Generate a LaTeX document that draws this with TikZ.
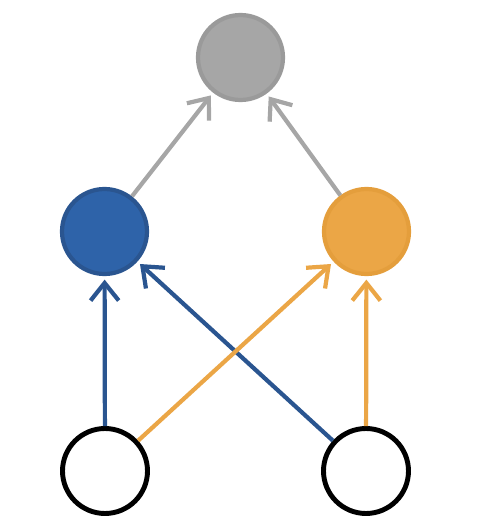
\documentclass[tikz,border=0pt]{standalone}
\usepackage{tikz}
\usetikzlibrary{arrows.meta}
\definecolor{gry}{HTML}{A6A6A6}
\definecolor{gryline}{HTML}{9A9A9A}
\definecolor{blu}{HTML}{2E63A9}
\definecolor{bluline}{HTML}{2A5590}
\definecolor{org}{HTML}{EBA646}
\definecolor{orgline}{HTML}{E49E3C}
\tikzset{every picture/.style={line width=2.4pt}}
\tikzset{every node/.style={draw, circle, minimum size=1.7cm, inner sep=0pt}}
\tikzset{edge/.style={-{Straight Barb[length=10pt,width=16pt]}, shorten >=2pt}}

\begin{document}
\begin{tikzpicture}
\useasboundingbox (0,0) rectangle (9.68,10.64);
\node[fill=gry, draw=gryline] (1) at (4.81,9.49) {};
\node[fill=blu, draw=bluline] (2) at (2.09,6.01) {};
\node[fill=org, draw=orgline] (3) at (7.33,6.01) {};
\node[line width=2.8pt] (4) at (2.10,1.22) {};
\node[line width=2.8pt] (5) at (7.32,1.22) {};
\draw[edge, gry] (2) -- (1);
\draw[edge, gry] (3) -- (1);
\draw[edge, bluline] (4) -- (2);
\draw[edge, bluline] (5) -- (2);
\draw[edge, org] (4) -- (3);
\draw[edge, org] (5) -- (3);
\end{tikzpicture}
\end{document}
